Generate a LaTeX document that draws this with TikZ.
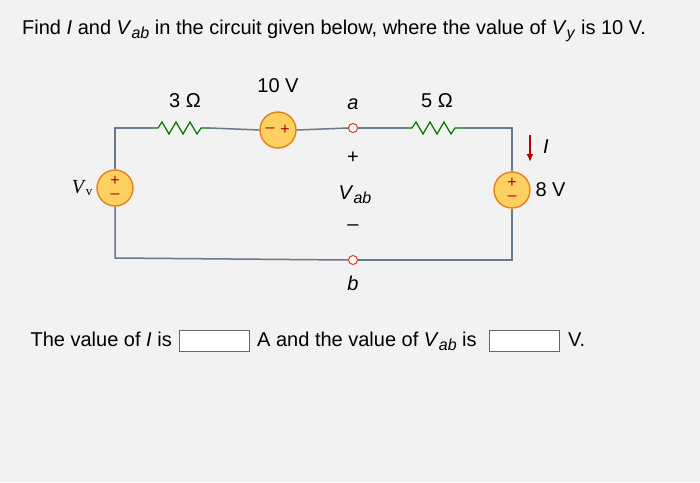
\documentclass[tikz,border=0pt]{standalone}
\usepackage{fontspec}
\setmainfont{Liberation Sans}
\newfontfamily\serifv{Liberation Serif}
\usetikzlibrary{calc,arrows.meta}
\definecolor{wirec}{RGB}{105,120,138}
\newcommand{\subsc}[1]{\raisebox{-4pt}{\fontsize{16}{16}\selectfont\textit{#1}}}
\begin{document}
\begin{tikzpicture}[x=1pt,y=-1pt,
 wire/.style={draw=wirec,line width=1.5pt},
 src/.style={circle,draw=orange!60!brown,fill=yellow!45!orange!60,line width=1.4pt,minimum size=36pt,inner sep=0pt},
 term/.style={circle,draw=red!60!brown,fill=white,line width=1pt,minimum size=9pt,inner sep=0pt},
 res/.style={draw=green!45!black,line width=1.2pt},
 lbl/.style={font=\fontsize{20}{20}\selectfont},
 sgn/.style={text=red!70!black,font=\fontsize{16}{16}\selectfont,inner sep=0pt},
 box/.style={draw=gray!80!black,fill=white,line width=0.8pt,minimum width=70pt,minimum height=21pt}]
\fill[gray!10] (0,0) rectangle (700,482);
\useasboundingbox (0,0) rectangle (700,482);
\node[lbl,anchor=base west,inner sep=0pt] (title) at (22,34) {Find \textit{I} and \textit{V}\subsc{ab} in the circuit given below, where the value of \textit{V}\subsc{y} is 10 V.};
\coordinate (tl) at (115,128); \coordinate (bl) at (115,258);
\coordinate (tr) at (512,128); \coordinate (br) at (512,260);
\coordinate (r1a) at (152,128); \coordinate (r1b) at (210,128);
\coordinate (r2a) at (406,128); \coordinate (r2b) at (465,128);
\node[src] (vv) at (115,188) {};
\node[src] (v10) at (278,130) {};
\node[src] (v8) at (512,190) {};
\node[term] (a) at (353,128) {};
\node[term] (b) at (353,260) {};
\draw[wire] (vv.north) -- (tl) -- (r1a);
\draw[wire] (r1b) -- (v10.west);
\draw[wire] (v10.east) -- (a.west);
\draw[wire] (a.east) -- (r2a);
\draw[wire] (r2b) -- (tr) -- (v8.north);
\draw[wire] (v8.south) -- (br) -- (b.east);
\draw[wire] (b.west) -- (bl) -- (vv.south);
\draw[res] (r1a) -- ++(6,0) -- ++(4,-6) -- ++(7,12) -- ++(7,-12) -- ++(7,12) -- ++(7,-12) -- ++(7,12) -- ++(4,-6) -- (r1b);
\draw[res] (r2a) -- ++(6,0) -- ++(4,-6) -- ++(7,12) -- ++(7,-12) -- ++(7,12) -- ++(7,-12) -- ++(7,12) -- ++(4,-6) -- (r2b);
\foreach \s in {vv,v8}{
 \node[sgn] at ($(\s)+(0,-7)$) {+};
 \node[sgn] at ($(\s)+(0,8)$) {\textendash};}
\node[sgn] at ($(v10)+(-8,0)$) {\textendash};
\node[sgn] at ($(v10)+(7,0)$) {+};
\node[lbl] (l3) at (185,101) {3 Ω};
\node[lbl] (l10) at (278,86) {10 V};
\node[lbl] (l5) at (437,101) {5 Ω};
\node[lbl] (la) at (353,104) {\textit{a}};
\node[lbl] (lb) at (353,283) {\textit{b}};
\node[lbl] (lp) at (353,158) {+};
\node[lbl] (lv) at (355,195) {\textit{V}\subsc{ab}};
\node[lbl] (lm) at (353,228) {\textendash};
\node[lbl,anchor=east] (lvv) at (96,188) {\serifv\textit{V}\raisebox{-2pt}{\fontsize{13}{13}\selectfont v}};
\node[lbl,anchor=west] (l8) at (532,190) {8 V};
\coordinate (i1) at (530,135); \coordinate (i2) at (530,162);
\draw[red!70!black,line width=1.8pt,-{Latex[length=8pt,width=7pt]}] (i1) -- (i2);
\node[lbl] (li) at (546,147) {\textit{I}};
\node[lbl,anchor=base east,inner sep=0pt] (q1) at (172,346) {The value of \textit{I} is};
\node[box] (b1) at (214,341) {};
\node[lbl,anchor=base west,inner sep=0pt] (q2) at (257,346) {A and the value of \textit{V}\subsc{ab} is};
\node[box] (b2) at (524,341) {};
\node[lbl,anchor=base west,inner sep=0pt] (q3) at (568,346) {V.};
\end{tikzpicture}
\end{document}
